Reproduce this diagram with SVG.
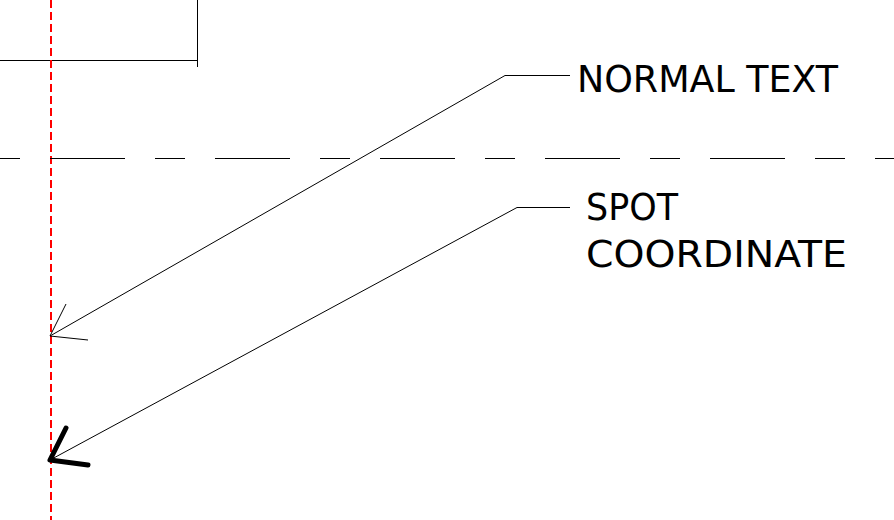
<svg xmlns="http://www.w3.org/2000/svg" width="894" height="520" viewBox="0 0 894 520">
<style>
.l{stroke:#000;stroke-width:1;fill:none}
.t{font-family:"DejaVu Sans","Liberation Sans",sans-serif;font-size:38px;font-weight:normal;fill:#000}
</style>
<rect width="894" height="520" fill="#fff"/>
<g id="box"><path class="l" d="M0 60.5H197.5M197.5 0V67"/></g>
<g id="gridlines">
<rect x="50" y="0" width="2" height="520" fill="none"/>
<line x1="51" y1="0" x2="51" y2="520" stroke="#ff0000" stroke-width="1.5" stroke-dasharray="8 4" shape-rendering="crispEdges"/>
<line x1="0" y1="158.5" x2="894" y2="158.5" stroke="#000" stroke-width="1" stroke-dasharray="75 30 30 30" stroke-dashoffset="115"/>
</g>
<g id="connectors">
<path class="l" d="M570 75.5H505L50 336M50 336L66 304M50 336L88 340"/>
<path class="l" d="M570 207.5H517L50 460"/>
<path d="M66 428L50 460L88 465" fill="none" stroke="#000" stroke-width="5" stroke-linecap="round" stroke-linejoin="round"/>
</g>
<g id="normal-text"><text class="t" x="577" y="92" textLength="261" lengthAdjust="spacingAndGlyphs">NORMAL TEXT</text></g>
<g id="spot-coordinate"><text class="t" x="586" y="220" textLength="92" lengthAdjust="spacingAndGlyphs">SPOT</text><text class="t" x="586" y="267" textLength="261" lengthAdjust="spacingAndGlyphs">COORDINATE</text></g>
</svg>
